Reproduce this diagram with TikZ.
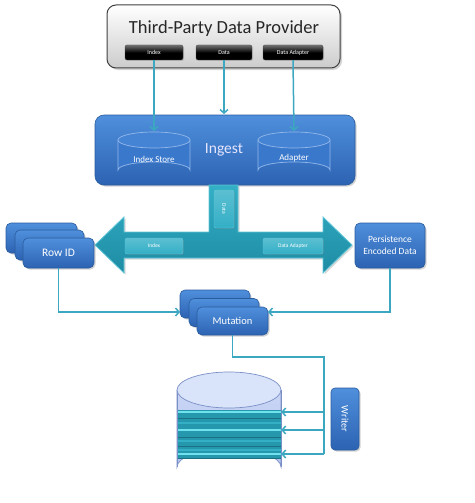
\documentclass[tikz,border=0pt]{standalone}
\usepackage{fontspec}
\setmainfont{Carlito}
\usetikzlibrary{shadows,arrows.meta,calc}
\definecolor{lnc}{HTML}{3CA7C0}
\definecolor{bluetop}{HTML}{4F8FDC}
\definecolor{bluebot}{HTML}{2C63B2}
\definecolor{blueedge}{HTML}{2A5C9E}
\definecolor{tealtop}{HTML}{33AFC6}
\definecolor{tealbot}{HTML}{1E8CA4}
\definecolor{tealedge}{HTML}{5FC6D8}
\definecolor{cyltop}{HTML}{D9E3F9}
\definecolor{cylfill}{HTML}{B3C4F0}
\definecolor{cyledge}{HTML}{7A8FC6}
\definecolor{icylbody}{HTML}{3A78CC}
\definecolor{icyltop}{HTML}{4584D4}
\definecolor{icyledge}{HTML}{93B8EA}
\definecolor{bandfill}{HTML}{2698AE}
\definecolor{banddark}{HTML}{1B7184}
\definecolor{bandlight}{HTML}{6FE2EE}
\tikzset{
  conn/.style={draw=lnc, line width=1.5pt},
  connarrow/.style={conn, -{Straight Barb[length=3.5pt,width=8pt]}},
  bluebox/.style={rounded corners=5pt, top color=bluetop, bottom color=bluebot, draw=blueedge, line width=0.6pt, text=white, drop shadow={opacity=0.35, shadow xshift=1.5pt, shadow yshift=-1.5pt}, align=center, inner sep=0pt},
  blackbox/.style={rounded corners=2pt, top color=black!55, bottom color=black, middle color=black, draw=black!70, text=white, font=\fontsize{6}{7}\selectfont, minimum height=15pt, inner sep=0pt, drop shadow={opacity=0.3, shadow xshift=1pt, shadow yshift=-1pt}},
  teallabel/.style={rounded corners=2pt, top color=tealtop!80!white, bottom color=tealtop, draw=tealedge, line width=0.4pt, text=white, font=\fontsize{5.5}{6}\selectfont, inner sep=0pt, drop shadow={opacity=0.25, shadow xshift=1pt, shadow yshift=-1pt}},
}
\begin{document}
\begin{tikzpicture}[x=1pt,y=-1pt]
\useasboundingbox (0,0) rectangle (474,503);

% Top provider
\node[rounded corners=9pt, top color=white, bottom color=black!20, draw=black!75, line width=1pt,
  minimum width=233pt, minimum height=63pt,
  drop shadow={opacity=0.35, shadow xshift=2pt, shadow yshift=-2pt}] (prov) at (223.5,36.5) {};
\node[text=black!85, font=\fontsize{18.5}{20}\selectfont] (provtitle) at (224,29) {Third-Party Data Provider};
\node[blackbox, minimum width=58pt] (pidx) at (154,52.5) {Index};
\node[blackbox, minimum width=56pt] (pdata) at (224,52.5) {Data};
\node[blackbox, minimum width=60pt] (pada) at (293,52.5) {Data Adapter};

% Ingest
\node[bluebox, rounded corners=9pt, minimum width=260pt, minimum height=70pt] (ingest) at (225,150) {};
\node[text=white!90!blue, font=\fontsize{15.5}{17}\selectfont] (ingtext) at (224,150) {Ingest};

% cylinders in ingest
\foreach \cx in {154,294}{
  \path[draw=icyledge, line width=0.7pt, fill=icylbody]
    (\cx-36,140) -- (\cx-36,170) arc[start angle=180,end angle=360,x radius=36,y radius=8] -- (\cx+36,140);
  \path[draw=icyledge, line width=0.7pt, fill=icyltop]
    (\cx,140) ellipse[x radius=36, y radius=8];
}
\node[text=white, font=\fontsize{9}{10}\selectfont] (istore) at (154,159) {Index Store};
\node[text=white, font=\fontsize{9}{10}\selectfont] (astore) at (294,158) {Adapter};
\coordinate (istoretop) at (154,131);
\coordinate (astoretop) at (294,131);
\coordinate (dtop) at (224,114);

% connectors top
\draw[connarrow] (pidx.south) -- (istoretop);
\draw[connarrow] (pdata.south) -- (dtop);
\draw[connarrow] (pada.south) -- (astoretop);

% big double arrow
\path[top color=tealtop, bottom color=tealbot, draw=tealedge, line width=0.8pt,
  drop shadow={opacity=0.3, shadow xshift=1.5pt, shadow yshift=-1.5pt}]
  (209,185) -- (238,185) -- (238,232) -- (323,232) -- (323,217) -- (352,245) -- (323,273)
  -- (323,258) -- (124,258) -- (124,273) -- (95,245) -- (124,217) -- (124,232) -- (209,232) -- cycle;
\node[teallabel, minimum width=20pt, minimum height=38pt] (adata) at (224,209) {\rotatebox{-90}{Data}};
\node[teallabel, minimum width=58pt, minimum height=16pt] (aidx) at (154,246) {Index};
\node[teallabel, minimum width=60pt, minimum height=16pt] (aada) at (293,246) {Data Adapter};

% Row ID stack
\node[bluebox, minimum width=71pt, minimum height=30pt] (row3) at (41.5,238) {};
\node[bluebox, minimum width=69pt, minimum height=30pt] (row2) at (49.5,245) {};
\node[bluebox, minimum width=71pt, minimum height=30pt, font=\fontsize{11.5}{13}\selectfont] (rowid) at (58.5,253) {Row ID};

% Persistence
\node[bluebox, minimum width=70pt, minimum height=45pt, font=\fontsize{9.5}{11.5}\selectfont] (pers) at (390,245.5) {Persistence\\Encoded Data};

% Mutation stack
\node[bluebox, minimum width=70pt, minimum height=28pt] (mut3) at (215,304) {};
\node[bluebox, minimum width=70pt, minimum height=28pt] (mut2) at (224,312.5) {};
\node[bluebox, minimum width=71pt, minimum height=28pt, font=\fontsize{10.5}{12}\selectfont] (mut) at (232.5,321) {Mutation};

\coordinate (mutin) at (180,312);
\coordinate (mutinr) at (268,312);
\draw[connarrow] (rowid.south) |- (mutin);
\draw[connarrow] (pers.south) |- (mutinr);

% Cylinder (data store)
\path[top color=cylfill!70!white, bottom color=cylfill, draw=cyledge, line width=0.7pt]
  (177,390) -- (177,467) arc[start angle=180,end angle=360,x radius=52,y radius=18] -- (281,390);
\fill[bandfill] (177,410) rectangle (281,458);
\foreach \yy in {418,437,446}{\draw[draw=banddark, line width=0.8pt] (177,\yy) -- (281,\yy);}
\foreach \yy in {423,441,450}{\draw[draw=tealtop, line width=1.6pt] (177,\yy) -- (281,\yy);}
\foreach \yy in {412,430,454}{\draw[draw=bandlight, line width=2.4pt] (177,\yy) -- (281,\yy);}
\draw[draw=banddark, line width=1pt] (177,458) -- (281,458);
\draw[draw=cyledge, line width=0.7pt] (177,390) -- (177,467) (281,390) -- (281,467);
\draw[fill=cyltop, draw=cyledge, line width=0.7pt] (229,390) ellipse[x radius=52, y radius=18];
\node[minimum width=104pt, minimum height=1pt, inner sep=0pt] (store) at (229,433) {};

% Writer
\node[bluebox, rounded corners=4pt, minimum width=28pt, minimum height=62pt, font=\fontsize{10}{11}\selectfont] (writer) at (345,419) {\rotatebox{-90}{Writer}};

% writer connectors
\coordinate (wbus) at (324,357);
\coordinate (wb1) at (324,412);
\coordinate (wb2) at (324,430);
\coordinate (wb3) at (324,454);
\draw[conn] (mut.south) |- (wbus) -- (wb3);
\draw[connarrow] (wb1) -- (store.east |- wb1);
\draw[connarrow] (wb2) -- (store.east |- wb2);
\draw[connarrow] (wb3) -- (store.east |- wb3);
\end{tikzpicture}
\end{document}
